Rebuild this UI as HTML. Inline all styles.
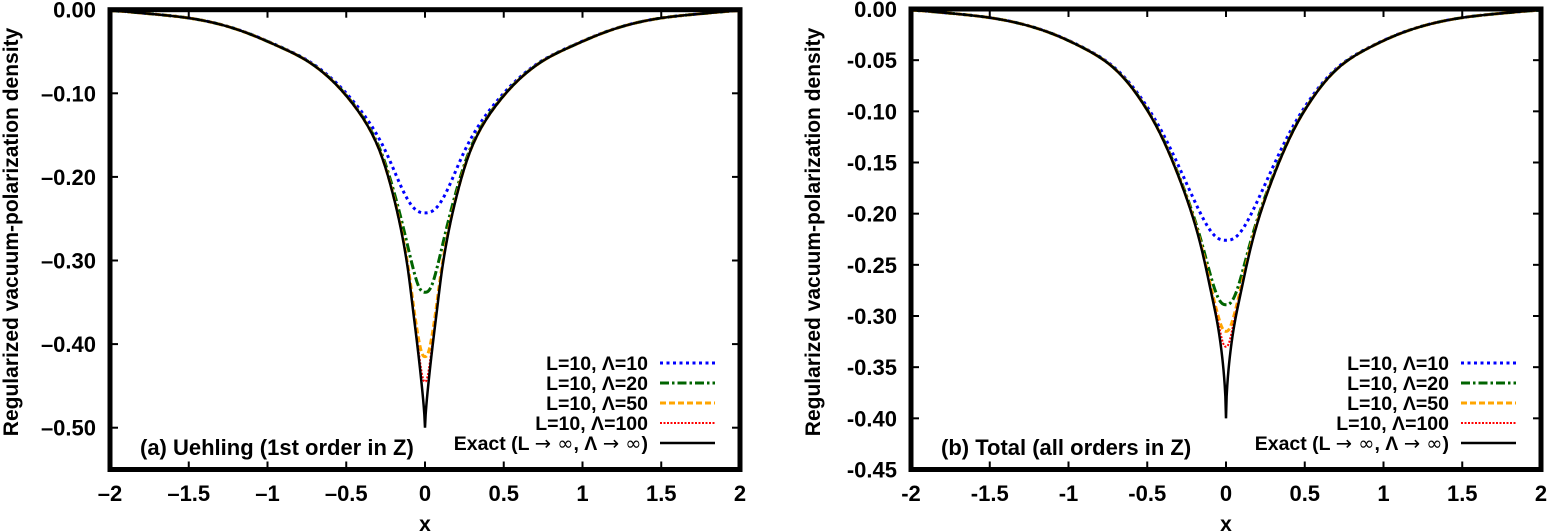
<!DOCTYPE html>
<html><head><meta charset="utf-8">
<style>
html,body{margin:0;padding:0;background:#fff;}
svg{display:block;}
text{font-family:"Liberation Sans",Arial,sans-serif;font-weight:bold;fill:#000;}
</style></head>
<body>
<svg id="s" width="1550" height="532" viewBox="0 0 1550 532" xmlns="http://www.w3.org/2000/svg">
<rect width="1550" height="532" fill="#fff"/>
<g id="g"></g>
</svg>
<script>
const NS="http://www.w3.org/2000/svg";
const G=document.getElementById('g');
function el(t,a,txt){const e=document.createElementNS(NS,t);for(const k in a)e.setAttribute(k,a[k]);if(txt!==undefined)e.textContent=txt;G.appendChild(e);return e;}

function pchip(xs,ys){
  const n=xs.length,h=[],d=[],m=new Array(n);
  for(let i=0;i<n-1;i++){h[i]=xs[i+1]-xs[i];d[i]=(ys[i+1]-ys[i])/h[i];}
  m[0]=d[0];m[n-1]=d[n-2];
  for(let i=1;i<n-1;i++){
    if(d[i-1]*d[i]<=0)m[i]=0;else{const w1=2*h[i]+h[i-1],w2=h[i]+2*h[i-1];m[i]=(w1+w2)/(w1/d[i-1]+w2/d[i]);}
  }
  return function(x){
    if(x<=xs[0])return ys[0];if(x>=xs[n-1])return ys[n-1];
    let i=0;while(x>xs[i+1])i++;
    const t=(x-xs[i])/h[i],t2=t*t,t3=t2*t;
    return (2*t3-3*t2+1)*ys[i]+(t3-2*t2+t)*h[i]*m[i]+(-2*t3+3*t2)*ys[i+1]+(t3-t2)*h[i]*m[i+1];
  };
}
function makeExact(tab,p){
  const xs=tab.map(a=>Math.pow(a[0],p)),ys=tab.map(a=>Math.log(-a[1]));
  const f=pchip(xs,ys);
  return function(x){x=Math.abs(x);return -Math.exp(f(Math.pow(Math.min(x,2),p)));};
}
function solveEps(f,target){let lo=0,hi=2;for(let i=0;i<60;i++){const m=(lo+hi)/2;if(f(m)<target)lo=m;else hi=m;}return (lo+hi)/2;}

function panel(P){
  const X=v=>P.x0+(v+2)/4*(P.x1-P.x0);
  const Y=v=>P.y0+(v)/(P.ymin)*(P.y1-P.y0);
  const styles=[
    {c:"#0000ff",w:3,d:"3 3.5"},
    {c:"#006400",w:3,d:"9 3 2.5 3"},
    {c:"#ffa500",w:3,d:"6 3"},
    {c:"#ff0000",w:2,d:"2 1.5"}];
  const q=2.5;
  P.mins.forEach((mn,k)=>{
    const e=solveEps(P.f,mn);let d="";
    for(let x=-2;x<=2.0001;x+=0.004){
      const r=Math.pow(Math.pow(Math.abs(x),q)+Math.pow(e,q),1/q);
      const v=P.f(r);d+=(d?"L":"M")+X(x).toFixed(2)+","+Y(v).toFixed(2);}
    const st=styles[k];
    el('path',{d:d,fill:"none",stroke:st.c,"stroke-width":st.w,"stroke-dasharray":st.d});
  });
  let d="";
  for(let i=0;i<=1000;i++){let x=-2+i*0.004;if(i==500)x=0;d+=(d?"L":"M")+X(x).toFixed(2)+","+Y(P.f(x)).toFixed(2);}
  el('path',{d:d,fill:"none",stroke:"#000","stroke-width":2.5,"stroke-linejoin":"miter","stroke-miterlimit":2});
  el('rect',{x:P.x0,y:P.y0,width:P.x1-P.x0,height:P.y1-P.y0,fill:"none",stroke:"#000","stroke-width":5});
  const xl=P.xlab;
  [-2,-1.5,-1,-0.5,0,0.5,1,1.5,2].forEach((v,i)=>{
    const x=X(v);
    if(i>0&&i<8){el('line',{x1:x,y1:P.y1,x2:x,y2:P.y1-8,stroke:"#000","stroke-width":2});el('line',{x1:x,y1:P.y0,x2:x,y2:P.y0+8,stroke:"#000","stroke-width":2});}
    el('text',{x:x,y:501,"font-size":22,"text-anchor":"middle"},xl[i]);
  });
  P.yt.forEach((t,i)=>{
    const y=Y(t[0]);
    if(i>0&&i<P.yt.length-1||(i==P.yt.length-1&&!P.lastEdge)){el('line',{x1:P.x0,y1:y,x2:P.x0+8,y2:y,stroke:"#000","stroke-width":2});el('line',{x1:P.x1,y1:y,x2:P.x1-8,y2:y,stroke:"#000","stroke-width":2});}
    el('text',{x:P.x0-14,y:y+8,"font-size":22,"text-anchor":"end"},t[1]);
  });
  el('text',{x:(P.x0+P.x1)/2,y:531,"font-size":21,"text-anchor":"middle"},"x");
  el('text',{x:0,y:0,"font-size":21,"text-anchor":"middle",transform:`translate(${P.tx},232) rotate(-90)`},"Regularized vacuum-polarization density");
  el('text',{x:P.x0+30,y:455,"font-size":22},P.title);
  const labs=["L=10, \u039B=10","L=10, \u039B=20","L=10, \u039B=50","L=10, \u039B=100"];
  const ly=[363,383,403,423,443];
  labs.forEach((l,k)=>{
    el('text',{x:P.x1-92,y:ly[k]+7,"font-size":19.5,"text-anchor":"end"},l);
    const st=styles[k];
    el('line',{x1:P.x1-80,y1:ly[k],x2:P.x1-25,y2:ly[k],stroke:st.c,"stroke-width":st.w,"stroke-dasharray":st.d});
  });
  const t=el('text',{x:P.x1-92,y:ly[4]+7,"font-size":19.5,"text-anchor":"end"});
  t.innerHTML='Exact (L <tspan font-family="DejaVu Sans" font-weight="normal">\u2192 \u221E</tspan>, \u039B <tspan font-family="DejaVu Sans" font-weight="normal">\u2192 \u221E</tspan>)';
  el('line',{x1:P.x1-80,y1:ly[4],x2:P.x1-25,y2:ly[4],stroke:"#000","stroke-width":2.5});
}

const fL=makeExact([[0,-0.5],[0.0285,-0.435],[0.071,-0.367],[0.113,-0.305],[0.198,-0.225],[0.303,-0.162],[0.5,-0.103],[0.726,-0.064],[1,-0.038],[1.5,-0.010],[1.8,-0.004],[2,-0.0012]],0.75);
const fR=makeExact([[0,-0.4],[0.044,-0.317],[0.097,-0.275],[0.181,-0.219],[0.308,-0.161],[0.5,-0.099],[0.733,-0.055],[1,-0.031],[1.5,-0.0085],[1.8,-0.0035],[2,-0.0012]],0.6);

panel({x0:110,x1:740,y0:9.7,y1:469.5,ymin:-0.55,f:fL,mins:[-0.243,-0.338,-0.415,-0.445],
  xlab:["\u20132","\u20131.5","\u20131","\u20130.5","0","0.5","1","1.5","2"],
  yt:[[0,"0.00"],[-0.1,"\u20130.10"],[-0.2,"\u20130.20"],[-0.3,"\u20130.30"],[-0.4,"\u20130.40"],[-0.5,"\u20130.50"]],
  lastEdge:false,tx:18,title:"(a) Uehling (1st order in Z)"});
panel({x0:911,x1:1541,y0:9,y1:469.5,ymin:-0.45,f:fR,mins:[-0.226,-0.289,-0.315,-0.330],
  xlab:["-2","-1.5","-1","-0.5","0","0.5","1","1.5","2"],
  yt:[[0,"0.00"],[-0.05,"-0.05"],[-0.1,"-0.10"],[-0.15,"-0.15"],[-0.2,"-0.20"],[-0.25,"-0.25"],[-0.3,"-0.30"],[-0.35,"-0.35"],[-0.4,"-0.40"],[-0.45,"-0.45"]],
  lastEdge:true,tx:820,title:"(b) Total (all orders in Z)"});
</script>
</body></html>
